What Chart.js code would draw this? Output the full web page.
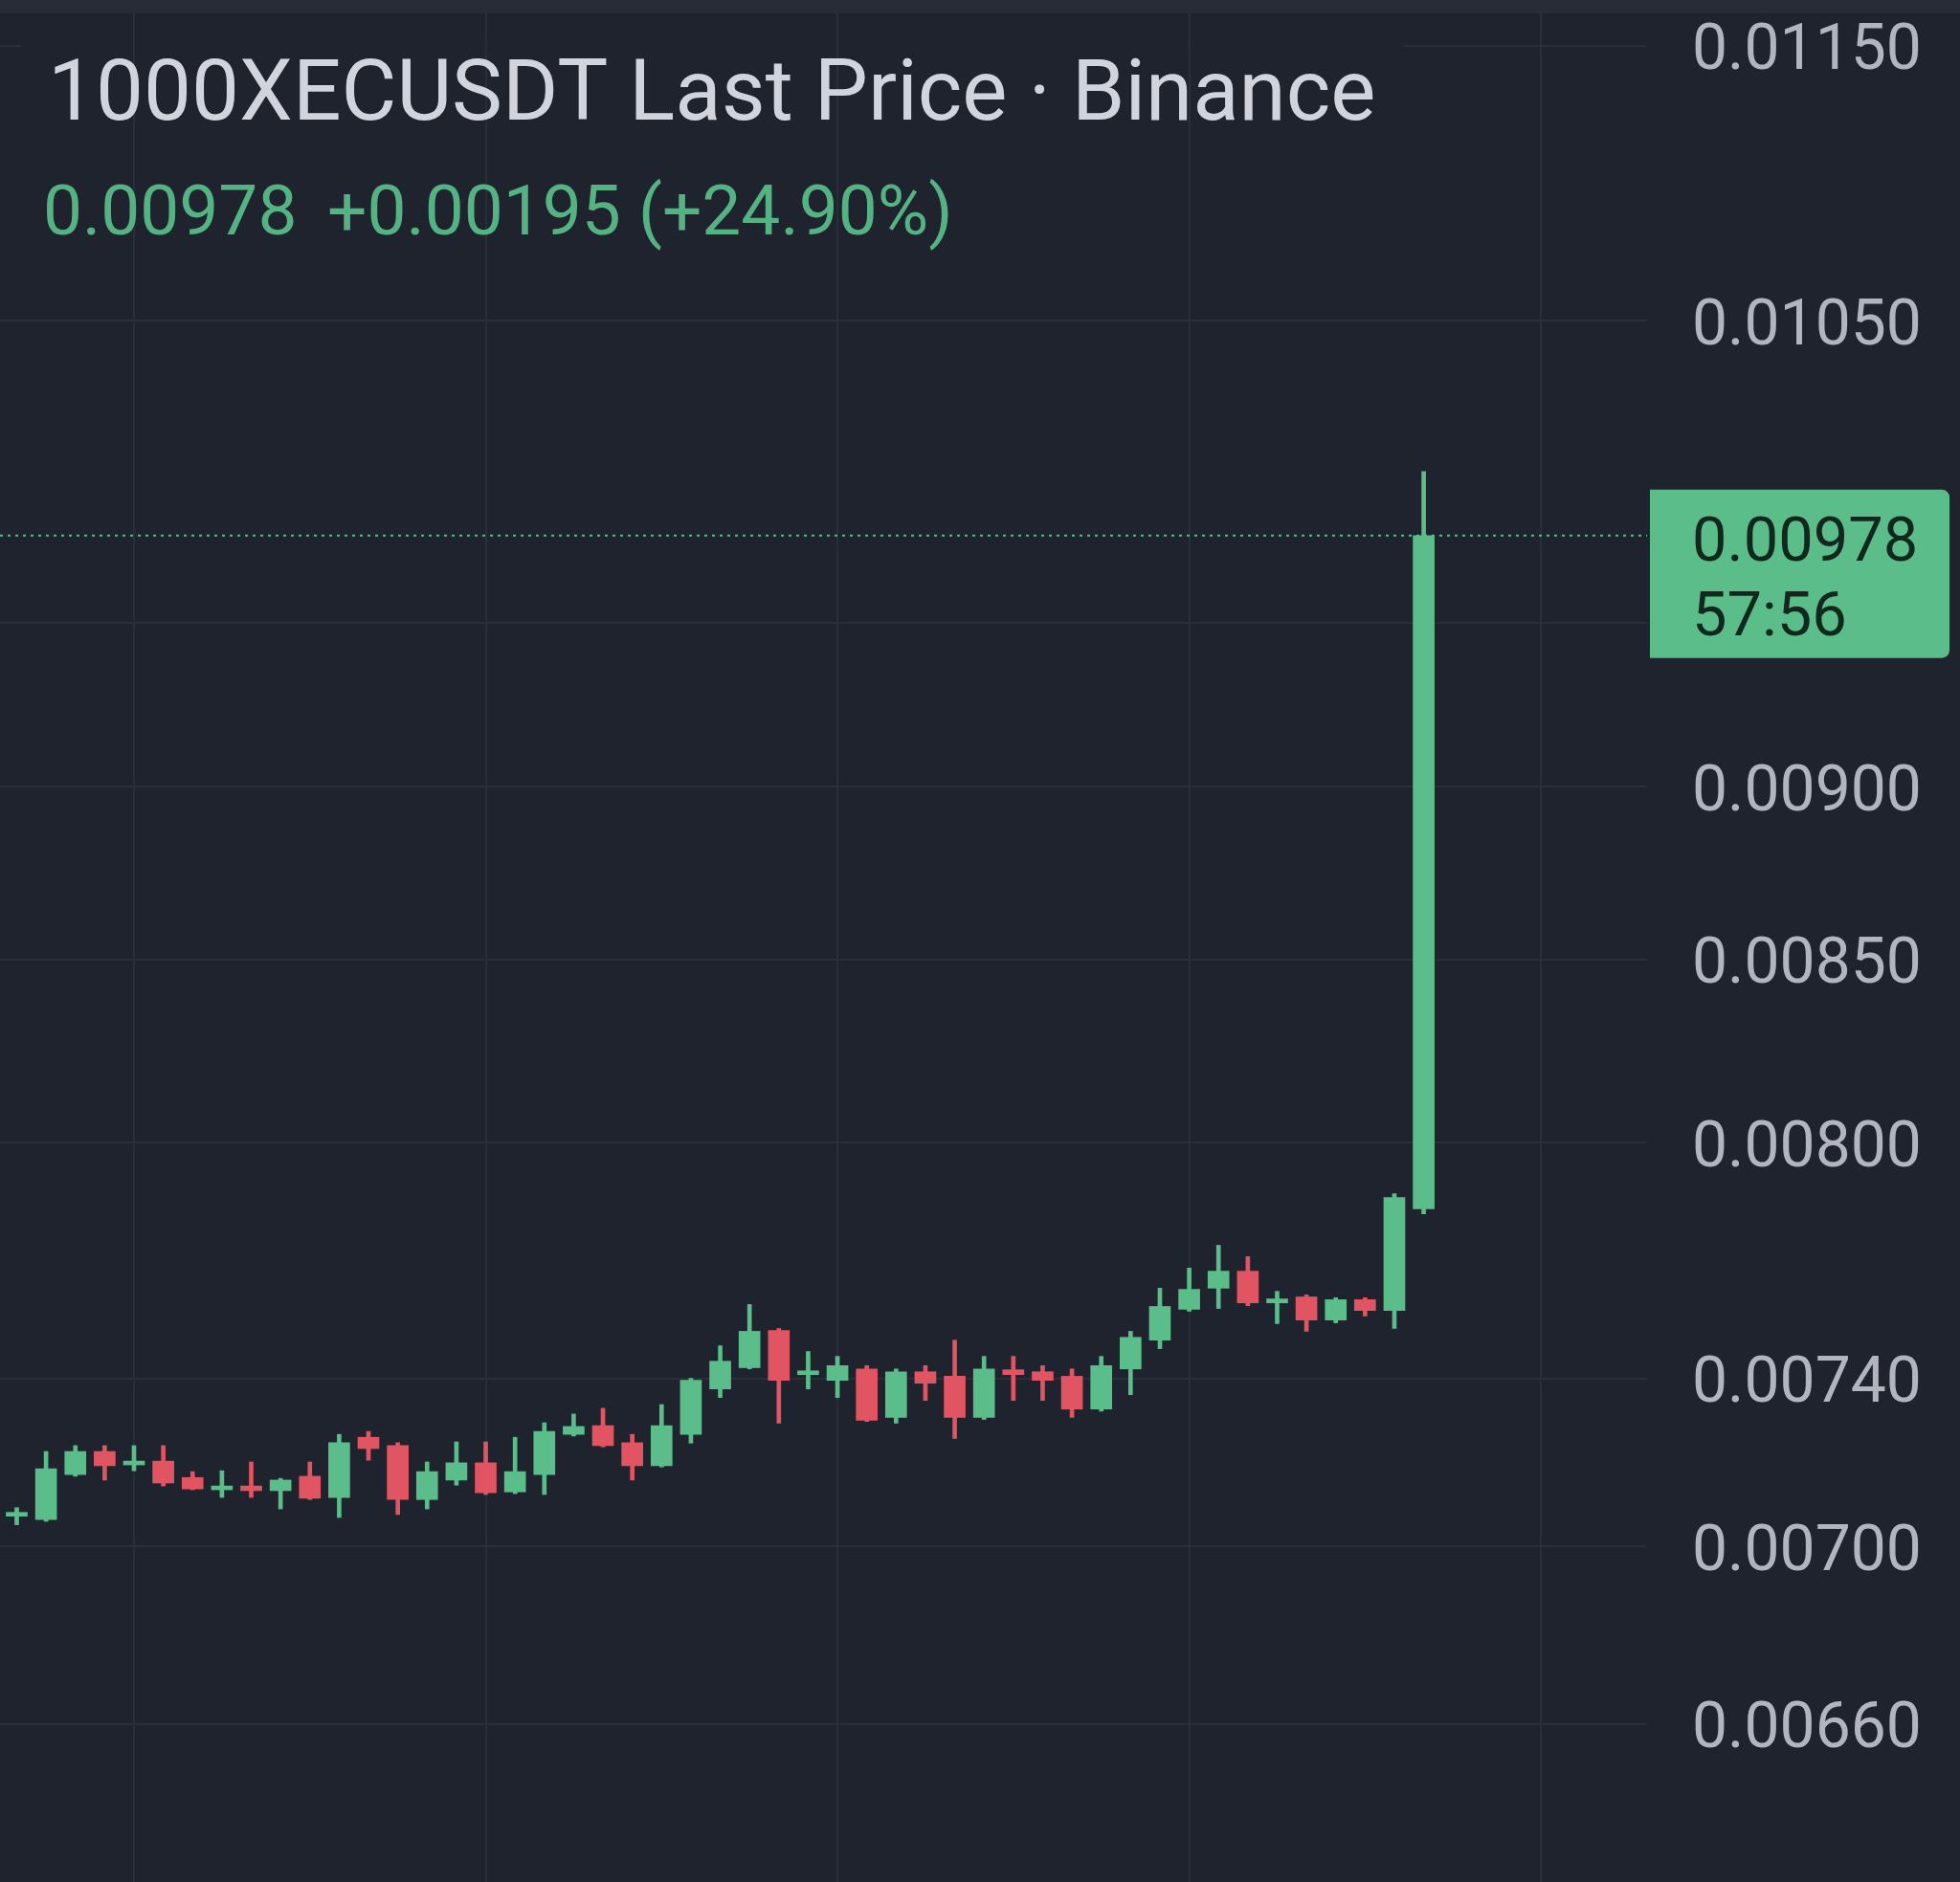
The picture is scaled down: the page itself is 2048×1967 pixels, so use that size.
<!DOCTYPE html>
<html>
<head>
<meta charset="utf-8">
<script src="https://cdn.jsdelivr.net/npm/chart.js@4.4.1/dist/chart.umd.min.js"></script>
<style>
  html, body { margin: 0; padding: 0; background: #1f232e; }
  canvas { display: block; }
</style>
</head>
<body>
<canvas id="chart" width="2048" height="1967"></canvas>
<script>
// hourly candles
const opens  = [0.007070, 0.007062, 0.007168, 0.007223, 0.007191, 0.007200, 0.007161, 0.007132, 0.007141, 0.007130,
                0.007164, 0.007114, 0.007257, 0.007237, 0.007109, 0.007155, 0.007196, 0.007127, 0.007168, 0.007264,
                0.007285, 0.007244, 0.007189, 0.007264, 0.007374, 0.007426, 0.007518, 0.007409, 0.007395, 0.007423,
                0.007305, 0.007416, 0.007405, 0.007305, 0.007421, 0.007416, 0.007405, 0.007325, 0.007423, 0.007494,
                0.007571, 0.007624, 0.007667, 0.007587, 0.007602, 0.007544, 0.007595, 0.007568, 0.007827];
const highs  = [0.007090, 0.007223, 0.007237, 0.007237, 0.007237, 0.007237, 0.007175, 0.007177, 0.007198, 0.007159,
                0.007198, 0.007264, 0.007271, 0.007244, 0.007198, 0.007246, 0.007246, 0.007257, 0.007292, 0.007313,
                0.007327, 0.007264, 0.007336, 0.007400, 0.007480, 0.007583, 0.007523, 0.007466, 0.007454, 0.007431,
                0.007423, 0.007431, 0.007494, 0.007454, 0.007454, 0.007431, 0.007423, 0.007454, 0.007516, 0.007624,
                0.007675, 0.007733, 0.007704, 0.007616, 0.007607, 0.007600, 0.007600, 0.007866, 0.009989];
const lows   = [0.007050, 0.007058, 0.007164, 0.007155, 0.007177, 0.007141, 0.007132, 0.007114, 0.007114, 0.007087,
                0.007109, 0.007067, 0.007202, 0.007074, 0.007087, 0.007143, 0.007121, 0.007123, 0.007121, 0.007260,
                0.007234, 0.007155, 0.007186, 0.007243, 0.007353, 0.007423, 0.007291, 0.007374, 0.007353, 0.007295,
                0.007291, 0.007346, 0.007254, 0.007300, 0.007346, 0.007346, 0.007305, 0.007320, 0.007360, 0.007473,
                0.007566, 0.007573, 0.007580, 0.007535, 0.007516, 0.007537, 0.007554, 0.007523, 0.007814];
const closes = [0.007075, 0.007182, 0.007223, 0.007189, 0.007198, 0.007148, 0.007134, 0.007139, 0.007130, 0.007155,
                0.007112, 0.007244, 0.007230, 0.007109, 0.007175, 0.007196, 0.007125, 0.007175, 0.007271, 0.007283,
                0.007237, 0.007189, 0.007285, 0.007395, 0.007442, 0.007516, 0.007395, 0.007414, 0.007431, 0.007298,
                0.007416, 0.007388, 0.007305, 0.007423, 0.007409, 0.007395, 0.007325, 0.007431, 0.007501, 0.007578,
                0.007621, 0.007667, 0.007587, 0.007597, 0.007544, 0.007595, 0.007568, 0.007856, 0.009780];

const yTicks = [0.0066, 0.0070, 0.0074, 0.0080, 0.0085, 0.0090, 0.0095, 0.0105, 0.0115];
const xGridTicks = [4, 16, 28, 40, 52];

const lastPrice = 0.00978;
const titleText = '1000XECUSDT Last Price · Binance';
const priceText = '0.00978';
const changeText = '+0.00195 (+24.90%)';
const countdown = '57:56';

const BG = '#1f232e';
const GRID = '#2a2e39';
const UP = '#5bbd8a';
const DOWN = '#e15562';

const colors = closes.map((c, i) => c >= opens[i] ? UP : DOWN);

const overlay = {
  id: 'overlay',
  beforeDatasetsDraw(chart) {
    const ctx = chart.ctx;
    const area = chart.chartArea;
    const y = chart.scales.y.getPixelForValue(lastPrice);
    ctx.save();
    ctx.strokeStyle = UP;
    ctx.lineWidth = 2;
    ctx.setLineDash([3, 5]);
    ctx.beginPath();
    ctx.moveTo(area.left, y);
    ctx.lineTo(area.right, y);
    ctx.stroke();
    ctx.restore();
  },
  afterDraw(chart) {
    const ctx = chart.ctx;
    const xs = chart.scales.x;
    const ys = chart.scales.y;
    ctx.save();

    // legend backdrop hides the top grid line behind the title
    const gy = ys.getPixelForValue(0.0115);
    ctx.fillStyle = BG;
    ctx.fillRect(22, gy - 5, 1445, 10);
    ctx.strokeStyle = GRID;
    ctx.lineWidth = 2;
    xGridTicks.forEach(v => {
      const px = xs.getPixelForValue(v);
      if (px > 1467) return;
      ctx.beginPath();
      ctx.moveTo(px, gy - 6);
      ctx.lineTo(px, gy + 6);
      ctx.stroke();
    });

    // thin band at the very top
    ctx.fillStyle = '#282c37';
    ctx.fillRect(0, 0, 2048, 14);

    // title
    ctx.textBaseline = 'alphabetic';
    ctx.textAlign = 'left';
    ctx.fillStyle = '#d1d4dc';
    ctx.font = '89px Roboto';
    ctx.fillText(titleText, 50, 125);
    ctx.fillStyle = '#55b383';
    ctx.font = '73px Roboto';
    ctx.fillText(priceText, 45, 245);
    ctx.fillText(changeText, 342, 245);

    // last price tag
    const py = ys.getPixelForValue(lastPrice);
    const bx = chart.chartArea.right + 3, bw = 2037 - bx;
    const top = py - 48, h = 176;
    ctx.fillStyle = UP;
    ctx.beginPath();
    ctx.roundRect(bx, top, bw, h, [0, 8, 8, 0]);
    ctx.fill();
    ctx.fillStyle = '#12281c';
    ctx.font = '65px Roboto';
    ctx.fillText(priceText, 1768, py + 26);
    ctx.fillText(countdown, 1768, py + 104);

    ctx.restore();
  }
};

new Chart(document.getElementById('chart'), {
  type: 'bar',
  data: {
    datasets: [
      {
        label: 'wick',
        data: lows.map((l, i) => ({ x: i, y: [l, highs[i]] })),
        backgroundColor: colors,
        barThickness: 4,
        grouped: false,
        order: 2
      },
      {
        label: 'body',
        data: opens.map((o, i) => ({ x: i, y: [o, closes[i]] })),
        backgroundColor: colors,
        barThickness: 22,
        minBarLength: 4,
        grouped: false,
        order: 1
      }
    ]
  },
  options: {
    responsive: false,
    devicePixelRatio: 1,
    animation: false,
    layout: { padding: 0 },
    plugins: {
      legend: { display: false },
      tooltip: { enabled: false }
    },
    scales: {
      x: {
        type: 'linear',
        min: -0.571,
        max: 55.62,
        offset: false,
        afterBuildTicks: s => { s.ticks = xGridTicks.map(v => ({ value: v })); },
        afterFit: s => { s.height = 0; s.paddingLeft = 0; s.paddingRight = 0; },
        ticks: { display: false },
        grid: { color: GRID, lineWidth: 2, drawTicks: false, offset: false },
        border: { display: false }
      },
      y: {
        type: 'logarithmic',
        position: 'right',
        min: 0.006264,
        max: 0.011676,
        afterBuildTicks: s => { s.ticks = yTicks.map(v => ({ value: v })); },
        afterFit: s => { s.width = 327; s.paddingTop = 0; s.paddingBottom = 0; },
        ticks: {
          padding: 47,
          labelOffset: 8,
          color: '#b2b5be',
          font: { family: 'Roboto', size: 66 },
          callback: v => v === 0.0095 ? '' : v.toFixed(5)
        },
        grid: { color: GRID, lineWidth: 2, drawTicks: false },
        border: { display: false }
      }
    }
  },
  plugins: [overlay]
});
</script>
</body>
</html>
